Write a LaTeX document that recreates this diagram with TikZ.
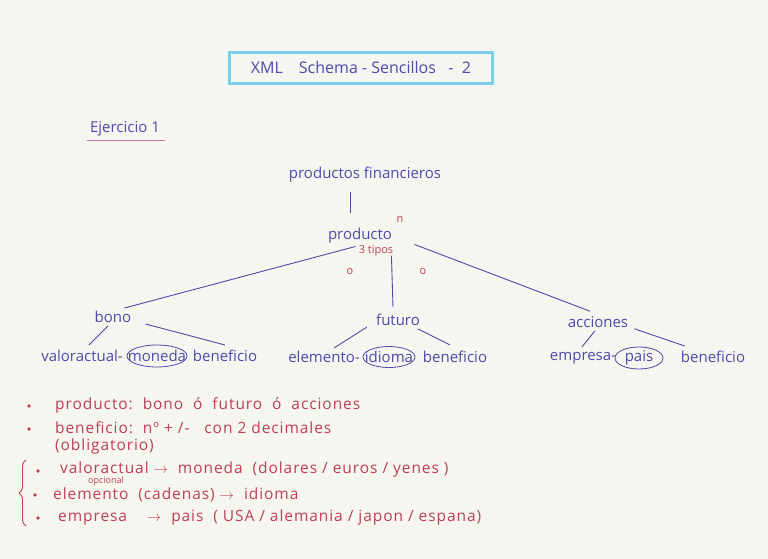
\documentclass[tikz,border=0pt]{standalone}
\usepackage{fontspec}
\setmainfont{Open Sans}
\usetikzlibrary{positioning,calc,shapes.geometric,decorations.pathreplacing}
\definecolor{inkblue}{RGB}{78,74,170}
\definecolor{inkred}{RGB}{192,62,86}
\definecolor{markcyan}{RGB}{120,208,236}
\definecolor{markpink}{RGB}{206,120,168}
\definecolor{paper}{RGB}{244,246,239}
\tikzstyle{branch} = [color=inkblue, line width=0.9pt]
\tikzstyle{word} = [text=inkblue, font=\fontsize{15}{17}\selectfont, inner sep=1pt]
\tikzstyle{ring} = [draw=inkblue, line width=0.8pt]
\tikzstyle{note} = [text=inkred, font=\fontsize{15.5}{18}\selectfont\addfontfeature{LetterSpace=6}, anchor=west, inner sep=0pt]
\tikzstyle{redmark} = [text=inkred, font=\fontsize{11}{12}\selectfont, inner sep=1pt]
\tikzstyle{bulletdot} = [circle, fill=inkred, inner sep=1.3pt]

\begin{document}
\begin{tikzpicture}[x=1pt, y=-1pt]
    % paper
    \fill[paper] (0,0) rectangle (768,559);
    \useasboundingbox (0,0) rectangle (768,559);

    % title and exercise
    \node[word, font=\fontsize{16}{18}\selectfont, draw=markcyan, line width=2.5pt, minimum width=263pt, minimum height=31pt] (title) at (361,68) {XML\quad Schema\ -\ Sencillos\ \ \ -\ \ 2};
    \node[word] (ejercicio) at (125,129) {Ejercicio 1};
    \draw[markpink, line width=1.5pt] ($(ejercicio.south west)+(-2,3)$) -- ($(ejercicio.south east)+(4,3)$);

    % tree
    \node[word] (prodfin) at (365,175) {productos financieros};
    \node[word] (producto) at (360,236) {producto};
    \node[redmark, inner sep=0pt] (cardn) at (400,220) {n};
    \node[redmark] (tipos) at (376,251) {3 tipos};
    \node[redmark] (orleft) at (350,272) {o};
    \node[redmark] (orright) at (423,272) {o};
    \draw[branch] ($(prodfin.south)+(-15,8)$) -- ($(producto.north)+(-10,-14)$);

    \node[word] (bono) at (113,317) {bono};
    \node[word] (futuro) at (398,320) {futuro};
    \node[word] (acciones) at (598,322) {acciones};
    \draw[branch] ($(tipos.north west)+(-2,2)$) -- ($(bono.north east)+(-8,-2)$);
    \draw[branch] ($(tipos.south east)+(-3,-2)$) -- ($(futuro.north)+(-5,-6)$);
    \draw[branch] ($(tipos.north east)+(20,0)$) -- ($(acciones.north)+(-8,-4)$);

    % bono
    \node[word] (valoractual) at (82,356) {valoractual-};
    \node[word] (moneda) at (157,356) {moneda};
    \draw[ring] (moneda) ellipse [x radius=30, y radius=11];
    \node[word] (benefbono) at (225,356) {beneficio};
    \draw[branch] ($(bono.south)+(-5,2)$) -- ($(valoractual.north)+(7,-4)$);
    \draw[branch] ($(bono.south east)+(13,0)$) -- ($(benefbono.north)+(0,-4)$);

    % futuro
    \node[word] (elemento) at (324,357) {elemento-};
    \node[word] (idioma) at (389,357) {idioma};
    \draw[ring] (idioma) ellipse [x radius=26, y radius=10.5];
    \node[word] (benefut) at (455,357) {beneficio};
    \draw[branch] ($(futuro.south west)+(-8,0)$) -- ($(elemento.north)+(10,-2)$);
    \draw[branch] ($(futuro.south east)+(-3,2)$) -- ($(benefut.north)+(-5,-5)$);

    % acciones
    \node[word] (empresa) at (583,358) {empresa-};
    \node[word] (pais) at (639,358) {pais};
    \draw[ring] (pais) ellipse [x radius=24, y radius=11];
    \node[word] (benefacc) at (713,357) {beneficio};
    \draw[branch] ($(acciones.south)+(-3,2)$) -- ($(empresa.north)+(-1,-4)$);
    \draw[branch] ($(acciones.south east)+(5,0)$) -- ($(benefacc.north west)+(5,-4)$);

    % notes
    \node[bulletdot] (b1) at (29,406) {};
    \node[note] (n1) at (55,405) {producto:\ \ bono\ \ ó\ \ futuro\ \ ó\ \ acciones};
    \node[bulletdot] (b2) at (29,429) {};
    \node[note] (n2) at (55,428) {beneficio:\ \ nº + /-\ \ \ con 2 decimales};
    \node[note] (n2b) at (55,446) {(obligatorio)};

    \node[bulletdot] (b3) at (38,471) {};
    \node[note] (n3) at (60,469) {valoractual $\to$\ \ moneda\ \ (dolares / euros / yenes )};
    \node[redmark, font=\fontsize{9}{10}\selectfont, inner sep=0pt] (opcional) at (106,481.5) {opcional};
    \node[bulletdot] (b4) at (35,495) {};
    \node[note] (n4) at (53,495) {elemento\ \ (cadenas) $\to$\ \ idioma};
    \node[bulletdot] (b5) at (38,518) {};
    \node[note] (n5) at (58,517) {empresa\ \ \ \ $\to$\ \ pais\ \ (\ USA / alemania / japon / espana)};
    \draw[inkred, line width=0.9pt, decorate, decoration={brace, amplitude=7pt}]
        ($(b5)+(-12,8)$) -- ($(b3)+(-12,-11)$);
\end{tikzpicture}
\end{document}
